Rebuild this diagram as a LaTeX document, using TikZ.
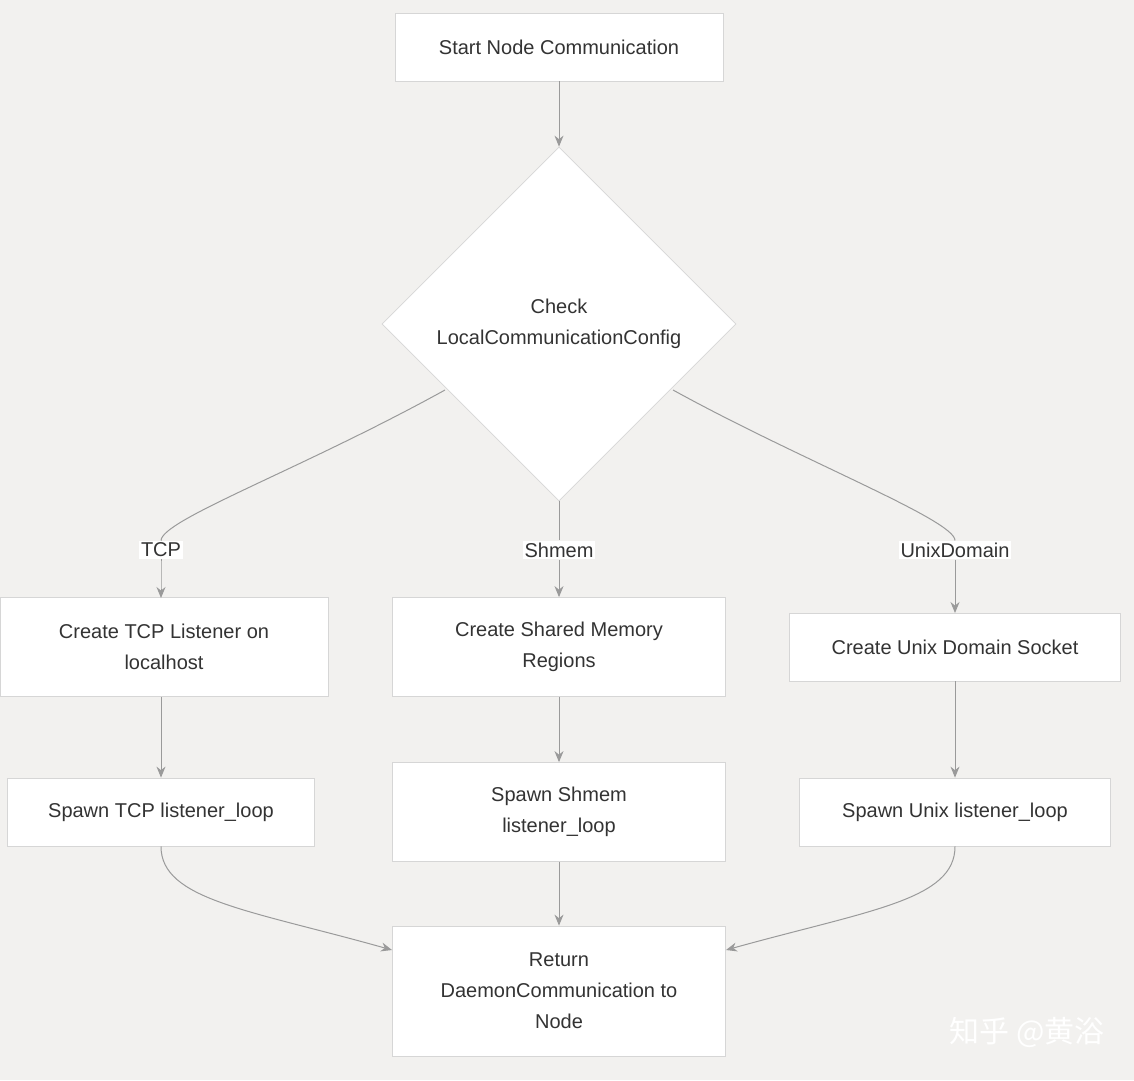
\documentclass[tikz,border=0pt]{standalone}
\usepackage{fontspec}
\setmainfont{Liberation Sans}
\newfontfamily\cjk{Noto Sans CJK SC}
\usetikzlibrary{shapes.geometric,arrows.meta}
\definecolor{bg}{HTML}{F2F1EF}
\definecolor{bd}{HTML}{D6D6D6}
\definecolor{ln}{HTML}{9A9A9A}
\definecolor{tx}{HTML}{333333}
\begin{document}
\begin{tikzpicture}[x=1pt,y=-1pt,
  box/.style={draw=bd,fill=white,line width=0.8pt,text=tx,font=\fontsize{20}{31}\selectfont,align=center,minimum height=#1},
  box/.default=68,
  lbl/.style={fill=white,text=tx,font=\fontsize{20}{22}\selectfont,inner sep=2pt},
  ed/.style={draw=ln,line width=1pt,-{Stealth[length=11pt,width=9pt]}},
  pl/.style={draw=ln,line width=1pt}]
\fill[bg] (0,0) rectangle (1134,1080);
\useasboundingbox (0,0) rectangle (1134,1080);
\node[box,minimum width=328] (start) at (559,47) {Start Node Communication};
\node[diamond,draw=bd,fill=white,line width=0.8pt,text=tx,font=\fontsize{20}{31}\selectfont,align=center,minimum width=354,minimum height=354,inner sep=0] (chk) at (559,324) {Check\\LocalCommunicationConfig};
\node[box=99,minimum width=328] (t1) at (164,647) {Create TCP Listener on\\localhost};
\node[box=99,minimum width=333] (s1) at (559,647) {Create Shared Memory\\Regions};
\node[box,minimum width=331] (u1) at (955,647) {Create Unix Domain Socket};
\node[box,minimum width=307] (t2) at (161,812) {Spawn TCP listener\_loop};
\node[box=99,minimum width=333] (s2) at (559,812) {Spawn Shmem\\listener\_loop};
\node[box,minimum width=311] (u2) at (955,812) {Spawn Unix listener\_loop};
\node[box=130,minimum width=333] (ret) at (559,991) {Return\\DaemonCommunication to\\Node};
\coordinate (dl) at (445,390);
\coordinate (dr) at (673,390);
\node[lbl] (lt) at (161,550) {TCP};
\node[lbl] (ls) at (559,550) {Shmem};
\node[lbl] (lu) at (955,550) {UnixDomain};
\draw[ed] (start) -- (chk);
\draw[pl] (dl) .. controls (300,470) and (161,520) .. (lt.north);
\draw[ed] (lt.south) .. controls (161,580) .. (161,598);
\draw[pl] (chk.south) -- (ls.north);
\draw[ed] (ls.south) -- (s1.north);
\draw[pl] (dr) .. controls (800,460) and (955,520) .. (lu.north);
\draw[ed] (lu.south) .. controls (955,590) .. (955,613);
\draw[ed] (t1.south -| t2) -- (t2);
\draw[ed] (s1) -- (s2);
\draw[ed] (u1) -- (u2);
\draw[ed] (t2.south) .. controls (161,900) and (250,910) .. (392,950);
\draw[ed] (s2) -- (ret);
\draw[ed] (u2.south) .. controls (955,900) and (870,910) .. (726,950);
\node[text=white,font=\cjk\fontsize{30}{34}\selectfont,anchor=east] (wm) at (1108,1032) {知乎 @黄浴};
\end{tikzpicture}
\end{document}
